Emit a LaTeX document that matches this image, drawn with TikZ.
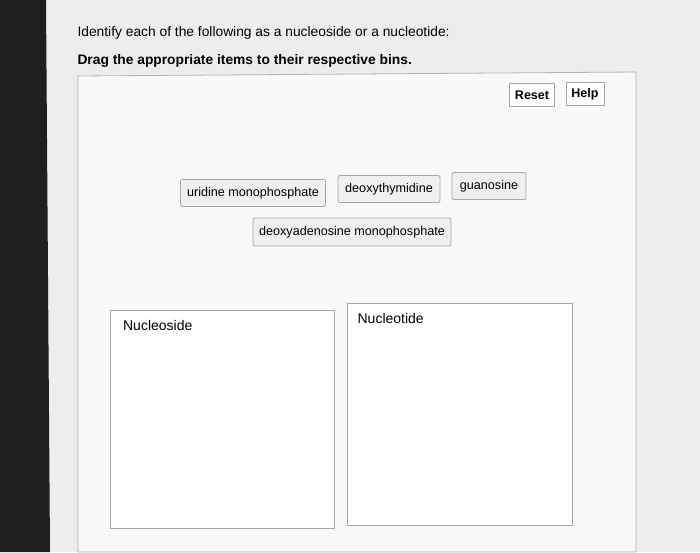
\documentclass[tikz,border=0pt]{standalone}
\usepackage{fontspec}
\setmainfont{Liberation Sans}
\begin{document}
\begin{tikzpicture}[x=1pt,y=-1pt,
  item/.style={draw=gray!70,fill=gray!12,rounded corners=2pt,line width=0.8pt,inner sep=0pt,font=\fontsize{12.6}{14}\selectfont},
  btn/.style={draw=gray!70,fill=white,line width=0.8pt,inner sep=0pt,font=\bfseries\fontsize{12.5}{14}\selectfont},
  bin/.style={draw=gray!70,fill=white,line width=0.8pt},
  lbl/.style={anchor=north west,font=\fontsize{14}{16}\selectfont}]
\useasboundingbox (0,0) rectangle (700,552);
\fill[gray!14] (0,0) rectangle (700,552);
\fill[black!88] (0,0) -- (46,0) -- (50,552) -- (0,552) -- cycle;
\node[anchor=west,font=\fontsize{13.8}{16}\selectfont] (t1) at (74,33) {Identify each of the following as a nucleoside or a nucleotide:};
\node[anchor=west,font=\bfseries\fontsize{13.8}{16}\selectfont] (t2) at (74,61) {Drag the appropriate items to their respective bins.};
\draw[gray!60,fill=gray!5,line width=0.8pt] (78,76) -- (636,72) -- (636,552) -- (78,552) -- cycle;
\node[btn,minimum width=45pt,minimum height=23pt] (reset) at (532,95) {Reset};
\node[btn,minimum width=38pt,minimum height=23pt] (help) at (585,94) {Help};
\node[item,minimum width=145pt,minimum height=27pt] (u) at (253,193) {uridine monophosphate};
\node[item,minimum width=102pt,minimum height=27pt] (d) at (389,189) {deoxythymidine};
\node[item,minimum width=74pt,minimum height=27pt] (g) at (489,186) {guanosine};
\node[item,minimum width=198pt,minimum height=28pt] (a) at (352,232) {deoxyadenosine monophosphate};
\node[bin,minimum width=224pt,minimum height=218pt] (ns) at (222,419) {};
\node[bin,minimum width=225pt,minimum height=222pt] (nt) at (460,414) {};
\node[lbl] at ([xshift=10pt,yshift=-7pt]ns.north west) {Nucleoside};
\node[lbl] at ([xshift=7pt,yshift=-7pt]nt.north west) {Nucleotide};
\end{tikzpicture}
\end{document}
